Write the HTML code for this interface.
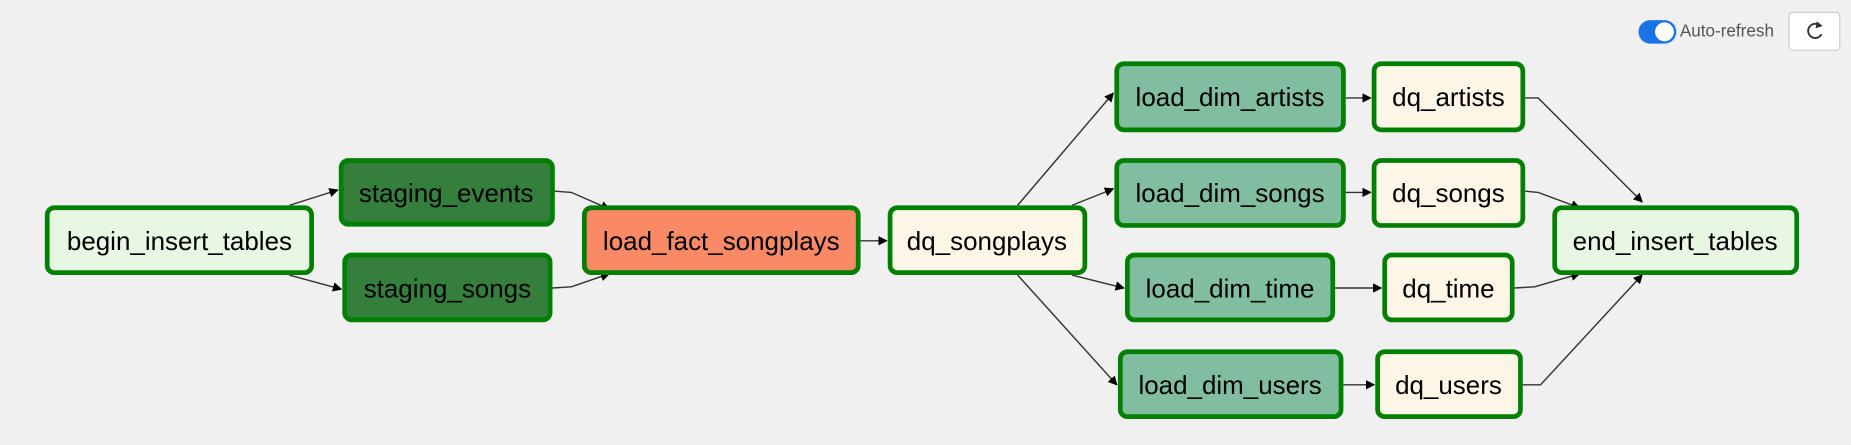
<!DOCTYPE html>
<html><head><meta charset="utf-8"><style>
html,body{margin:0;padding:0;background:#f0f0f0;width:1851px;height:445px;overflow:hidden}
svg{display:block}
text{font-family:"Liberation Sans",Arial,sans-serif}
</style></head><body>
<svg width="1851" height="445" viewBox="0 0 1568 377" preserveAspectRatio="none">
<defs><marker id="a" markerWidth="8" markerHeight="8" refX="7" refY="4" orient="auto" markerUnits="userSpaceOnUse"><path d="M0,0 L8,4 L0,8 z" fill="#000"/></marker></defs>
<rect width="1568" height="377" fill="#f0f0f0"/>
<g stroke="#333" stroke-width="1.2" fill="none" marker-end="url(#a)">
<path d="M245,174 L286,161"/>
<path d="M245,233 L289,245"/>
<path d="M470,162 L484,163 L516,177"/>
<path d="M468,244 L484,243 L516,232"/>
<path d="M729,204 L751,204"/>
<path d="M862,174 L943,79"/>
<path d="M908,174 L943,160"/>
<path d="M908,233 L952,244"/>
<path d="M862,233 L946,326"/>
<path d="M1140,83 L1161,83"/>
<path d="M1140,163 L1161,163"/>
<path d="M1131,244 L1170,244"/>
<path d="M1138,326 L1164,326"/>
<path d="M1292,83 L1303,83 L1391,171"/>
<path d="M1292,162 L1303,163 L1338,176"/>
<path d="M1283,244 L1300,243 L1338,232"/>
<path d="M1290,326 L1305,326 L1391,233"/>
</g>
<g stroke="#008000" stroke-width="4">
<rect x="40" y="176" width="224" height="55" rx="6" fill="#e8f7e4"/>
<rect x="289" y="136" width="179" height="54" rx="6" fill="#357f3d"/>
<rect x="292" y="216" width="174" height="55" rx="6" fill="#357f3d"/>
<rect x="495" y="176" width="232" height="55" rx="6" fill="#fa8966"/>
<rect x="754" y="176" width="165" height="55" rx="6" fill="#fdf6e6"/>
<rect x="946" y="54" width="192" height="56" rx="6" fill="#80be9f"/>
<rect x="1164" y="54" width="126" height="56" rx="6" fill="#fdf6e6"/>
<rect x="946" y="136" width="192" height="55" rx="6" fill="#80be9f"/>
<rect x="1164" y="136" width="126" height="55" rx="6" fill="#fdf6e6"/>
<rect x="955" y="216" width="174" height="55" rx="6" fill="#80be9f"/>
<rect x="1173" y="216" width="108" height="55" rx="6" fill="#fdf6e6"/>
<rect x="949" y="298" width="187" height="55" rx="6" fill="#80be9f"/>
<rect x="1167" y="298" width="121" height="55" rx="6" fill="#fdf6e6"/>
<rect x="1317" y="176" width="205" height="55" rx="6" fill="#e8f7e4"/>
</g>
<g font-size="22" fill="#000" text-anchor="middle">
<text x="152" y="212">begin_insert_tables</text>
<text x="378" y="171">staging_events</text>
<text x="379" y="252">staging_songs</text>
<text x="611" y="212">load_fact_songplays</text>
<text x="836" y="212">dq_songplays</text>
<text x="1042" y="90">load_dim_artists</text>
<text x="1227" y="90">dq_artists</text>
<text x="1042" y="171">load_dim_songs</text>
<text x="1227" y="171">dq_songs</text>
<text x="1042" y="252">load_dim_time</text>
<text x="1227" y="252">dq_time</text>
<text x="1042" y="334">load_dim_users</text>
<text x="1227" y="334">dq_users</text>
<text x="1419" y="212">end_insert_tables</text>
</g>
<rect x="1388" y="17" width="32" height="20" rx="10" fill="#1a73e8"/>
<circle cx="1410" cy="27" r="8" fill="#fff"/>
<text x="1423" y="31" font-size="14.5" fill="#555">Auto-refresh</text>
<rect x="1515.5" y="10.5" width="43" height="32" rx="3" fill="#fff" stroke="#ccc"/>
<path d="M1542,22 A6,6 0 1 0 1543,29" fill="none" stroke="#333" stroke-width="1.6"/>
<path d="M1539,18 L1544,22 L1538,24 z" fill="#333"/>
</svg>
</body></html>
